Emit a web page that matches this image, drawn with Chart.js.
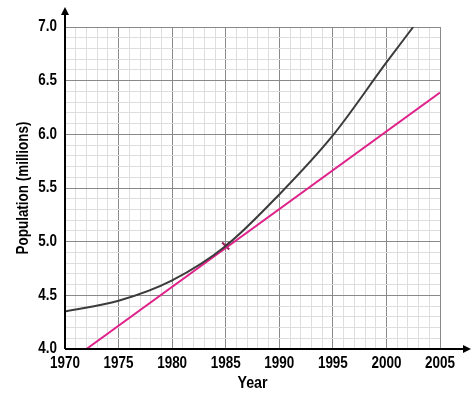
<!DOCTYPE html>
<html>
<head>
<meta charset="utf-8">
<script src="https://cdn.jsdelivr.net/npm/chart.js@4"></script>
<style>
html,body{margin:0;padding:0;background:#fff;}
#wrap{width:474px;height:397px;}
</style>
</head>
<body>
<div id="wrap"><canvas id="c" width="474" height="397"></canvas></div>
<script>
const years = [1970, 1975, 1980, 1985, 1990, 1995, 2000, 2002.5];
const population = [4.35, 4.45, 4.64, 4.96, 5.44, 5.99, 6.67, 7.0];
const tangentYears = [1972, 2005];
const tangentValues = [4.0, 6.39];
const pointYear = [1985];
const pointValue = [4.96];
const xTickLabels = [1970, 1975, 1980, 1985, 1990, 1995, 2000, 2005];
const yTickLabels = ['4.0', '4.5', '5.0', '5.5', '6.0', '6.5', '7.0'];

const FONT = "'Liberation Sans', Arial, sans-serif";
const NARROW = 0.84;

const toXY = (xs, ys) => xs.map((x, i) => ({x: x, y: ys[i]}));

const isMajorX = v => Math.abs(v / 5 - Math.round(v / 5)) < 1e-6;
const isMajorY = v => Math.abs(v * 2 - Math.round(v * 2)) < 1e-6;

// draw all chart text with a condensed (narrow) horizontal scale
const narrowText = {
  id: 'narrowText',
  beforeDraw(chart) {
    const ctx = chart.ctx;
    if (ctx.__narrow) return;
    const orig = CanvasRenderingContext2D.prototype.fillText;
    ctx.fillText = function (t, x, y) {
      this.save();
      this.translate(x, y);
      this.scale(NARROW, 1);
      orig.call(this, t, 0, 0);
      this.restore();
    };
    ctx.__narrow = true;
  }
};

const axisArrows = {
  id: 'axisArrows',
  afterDatasetsDraw(chart) {
    const ctx = chart.ctx;
    const a = chart.chartArea;
    ctx.save();
    ctx.strokeStyle = '#000';
    ctx.fillStyle = '#000';
    ctx.lineWidth = 2;
    ctx.beginPath();
    ctx.moveTo(a.left, a.bottom);
    ctx.lineTo(a.left, 12);
    ctx.moveTo(a.left, a.bottom);
    ctx.lineTo(466, a.bottom);
    ctx.stroke();
    ctx.beginPath();
    ctx.moveTo(a.left, 7);
    ctx.lineTo(a.left - 4, 15);
    ctx.lineTo(a.left + 4, 15);
    ctx.closePath();
    ctx.fill();
    ctx.beginPath();
    ctx.moveTo(471, a.bottom);
    ctx.lineTo(463, a.bottom - 4);
    ctx.lineTo(463, a.bottom + 4);
    ctx.closePath();
    ctx.fill();
    ctx.restore();
  }
};

new Chart(document.getElementById('c'), {
  type: 'scatter',
  data: {
    datasets: [
      {
        label: 'Population',
        data: toXY(years, population),
        showLine: true,
        borderColor: '#3b3b3b',
        borderWidth: 2,
        pointRadius: 0,
        cubicInterpolationMode: 'monotone',
        fill: false
      },
      {
        label: 'Tangent',
        data: toXY(tangentYears, tangentValues),
        showLine: true,
        borderColor: '#e0218a',
        borderWidth: 2,
        pointRadius: 0,
        fill: false
      },
      {
        label: 'Point',
        data: toXY(pointYear, pointValue),
        showLine: false,
        pointStyle: 'crossRot',
        pointRadius: 5,
        pointBorderWidth: 2,
        pointBorderColor: '#9c1c5c',
        borderColor: '#9c1c5c'
      }
    ]
  },
  options: {
    responsive: false,
    animation: false,
    events: [],
    layout: {padding: {left: 0, top: 27, right: 34, bottom: 0}},
    plugins: {legend: {display: false}, tooltip: {enabled: false}},
    scales: {
      x: {
        type: 'linear',
        min: 1970,
        max: 2005,
        afterFit(s) { s.height = 48; },
        afterBuildTicks(s) {
          const t = [];
          for (let v = 1970; v <= 2005; v++) t.push({value: v});
          s.ticks = t;
        },
        ticks: {
          autoSkip: false,
          maxRotation: 0,
          padding: 5,
          color: '#000',
          font: {family: FONT, size: 16, weight: 'bold'},
          callback: v => (xTickLabels.includes(Math.round(v)) && isMajorX(v)) ? String(Math.round(v)) : ''
        },
        grid: {
          drawTicks: false,
          color: c => isMajorX(c.tick.value) ? '#8a8a8a' : '#dedede',
          lineWidth: 1
        },
        border: {display: false},
        title: {
          display: true,
          text: 'Year',
          color: '#000',
          font: {family: FONT, size: 17, weight: 'bold'},
          padding: {top: 2, bottom: 3}
        }
      },
      y: {
        type: 'linear',
        min: 4,
        max: 7,
        afterFit(s) { s.width = 65; },
        afterBuildTicks(s) {
          const t = [];
          for (let i = 40; i <= 70; i++) t.push({value: i / 10});
          s.ticks = t;
        },
        ticks: {
          autoSkip: false,
          padding: 8,
          color: '#000',
          font: {family: FONT, size: 16, weight: 'bold'},
          callback: v => {
            if (!isMajorY(v)) return '';
            const s = v.toFixed(1);
            return yTickLabels.includes(s) ? s : '';
          }
        },
        grid: {
          drawTicks: false,
          color: c => isMajorY(c.tick.value) ? '#8a8a8a' : '#dedede',
          lineWidth: 1
        },
        border: {display: false},
        title: {
          display: true,
          text: 'Population (millions)',
          color: '#000',
          font: {family: FONT, size: 16, weight: 'bold'},
          padding: {top: 14, bottom: 0}
        }
      }
    }
  },
  plugins: [narrowText, axisArrows]
});
</script>
</body>
</html>
